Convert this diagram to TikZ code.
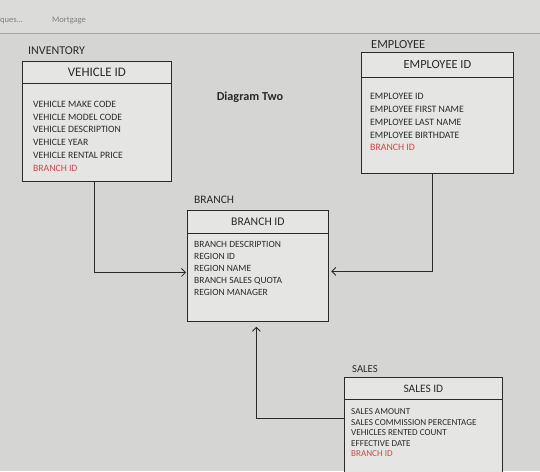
\documentclass[tikz,border=0pt]{standalone}
\usepackage{fontspec}
\setmainfont{Carlito}
\usetikzlibrary{positioning}
\usetikzlibrary{arrows.meta}
\definecolor{screen}{HTML}{D5D5D3}
\definecolor{tabbar}{HTML}{DBDBD9}
\definecolor{panel}{HTML}{E5E5E3}
\definecolor{ink}{HTML}{2A2A2A}
\definecolor{fkred}{HTML}{D04848}
\tikzset{table/.style = {draw=ink, fill=panel, line width=0.8pt, inner sep=0pt, anchor=north west},
         keyrow/.style = {draw=ink, line width=0.8pt, inner sep=0pt, anchor=north, text=ink},
         tabname/.style = {inner sep=0pt, text=ink},
         attrs/.style = {inner sep=0pt, align=left, text=ink},
         link/.style = {draw=ink, line width=0.8pt, -{Straight Barb[length=4pt, width=8pt]}}}
\newcommand{\fk}[1]{\textcolor{fkred}{#1}}

\begin{document}
\begin{tikzpicture}[x=1pt, y=1pt]
      \useasboundingbox (0, 0) rectangle (540, 471);
      \clip (0, 0) rectangle (540, 471);
      \fill [screen] (0, 0) rectangle (540, 471);
      \fill [tabbar] (0, 438) rectangle (540, 471);
      \draw [gray!70, line width=0.6pt] (0, 438) -- (540, 438);
      \node [inner sep=0pt, anchor=base west, text=gray, font=\fontsize{8.5}{10}\selectfont] (tab1) at (0, 448) {ques...};
      \node [inner sep=0pt, anchor=base west, text=gray, font=\fontsize{8.5}{10}\selectfont] (tab2) at (52, 448) {Mortgage};

      % inventory
      \node [table, minimum width=149pt, minimum height=120pt] (inv) at (22, 410) {};
      \node [keyrow, minimum width=149pt, minimum height=22pt, font=\fontsize{13}{15}\selectfont] (invkey) at (inv.north) {VEHICLE ID};
      \node [tabname, above right=6pt and 6pt of inv.north west, anchor=south west, font=\fontsize{12}{14}\selectfont] (invname) {INVENTORY};
      \node [attrs, below right=17pt and 11pt of invkey.south west, anchor=north west, font=\fontsize{9.7}{12.8}\selectfont] (invattr)
            {VEHICLE MAKE CODE\\VEHICLE MODEL CODE\\VEHICLE DESCRIPTION\\VEHICLE YEAR\\VEHICLE RENTAL PRICE\\\fk{BRANCH ID}};

      % employee
      \node [table, minimum width=152pt, minimum height=121pt] (emp) at (361, 419) {};
      \node [keyrow, minimum width=152pt, minimum height=25pt, font=\fontsize{12.4}{15}\selectfont] (empkey) at (emp.north) {EMPLOYEE ID};
      \node [tabname, above right=3pt and 10pt of emp.north west, anchor=south west, font=\fontsize{12.4}{14}\selectfont] (empname) {EMPLOYEE};
      \node [attrs, below right=15pt and 9pt of empkey.south west, anchor=north west, font=\fontsize{9.8}{12.9}\selectfont] (empattr)
            {EMPLOYEE ID\\EMPLOYEE FIRST NAME\\EMPLOYEE LAST NAME\\EMPLOYEE BIRTHDATE\\\fk{BRANCH ID}};

      % branch
      \node [table, minimum width=141pt, minimum height=111pt] (branch) at (187, 261) {};
      \node [keyrow, minimum width=141pt, minimum height=23pt, font=\fontsize{11.7}{14}\selectfont] (branchkey) at (branch.north) {BRANCH ID};
      \node [tabname, above right=6pt and 7pt of branch.north west, anchor=south west, font=\fontsize{11.5}{14}\selectfont] (branchname) {BRANCH};
      \node [attrs, below right=7pt and 7pt of branchkey.south west, anchor=north west, font=\fontsize{9.5}{12}\selectfont] (branchattr)
            {BRANCH DESCRIPTION\\REGION ID\\REGION NAME\\BRANCH SALES QUOTA\\REGION MANAGER};

      % sales
      \node [table, minimum width=158pt, minimum height=110pt] (sales) at (344, 94) {};
      \node [keyrow, minimum width=158pt, minimum height=22pt, font=\fontsize{11.4}{14}\selectfont] (saleskey) at (sales.north) {SALES ID};
      \node [tabname, above right=4pt and 8pt of sales.north west, anchor=south west, font=\fontsize{10.7}{13}\selectfont] (salesname) {SALES};
      \node [attrs, below right=9pt and 7pt of saleskey.south west, anchor=north west, font=\fontsize{9.1}{10.4}\selectfont] (salesattr)
            {SALES AMOUNT\\SALES COMMISSION PERCENTAGE\\VEHICLES RENTED COUNT\\EFFECTIVE DATE\\\fk{BRANCH ID}};

      \node [inner sep=0pt, text=ink, font=\bfseries\fontsize{12.2}{14}\selectfont] (title) at (250, 374) {Diagram Two};

      % links to branch
      \draw [link, shorten >=1pt] ([xshift=-2.5pt]inv.south) |- ([yshift=-6.5pt]branch.west);
      \draw [link, shorten >=2.5pt] ([xshift=-5pt]emp.south) |- ([yshift=-5.5pt]branch.east);
      \draw [link, shorten >=5pt] ([yshift=14pt]sales.west) -| ([xshift=-1.5pt]branch.south);
    \end{tikzpicture}
\end{document}
